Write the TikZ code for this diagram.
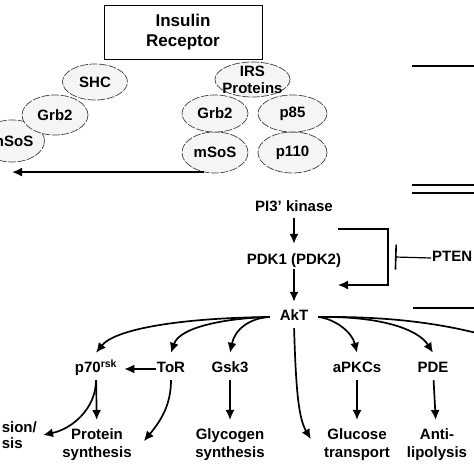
\documentclass[tikz,border=0pt]{standalone}
\usepackage{fontspec}
\setmainfont{Liberation Sans}
\usetikzlibrary{shapes.geometric,arrows.meta}

\begin{document}
\begin{tikzpicture}[x=1pt,y=1pt,
  lbl/.style={font=\bfseries\fontsize{15}{18}\selectfont, text height=11pt, text depth=3pt, inner sep=1pt},
  lbltwo/.style={font=\bfseries\fontsize{15}{18}\selectfont, align=center, anchor=north, inner sep=1pt},
  blob/.style={ellipse, draw=black!75, line width=0.7pt, dash pattern=on 8pt off 1.5pt, fill=black!4, inner sep=0pt, minimum width=66pt, minimum height=38pt},
  blobtxt/.style={font=\bfseries\fontsize{15}{17}\selectfont, align=center, inner sep=0pt},
  arr/.style={line width=1.7pt, -{Latex[length=10pt,width=9pt]}},
  rule/.style={line width=1.4pt}
]
\useasboundingbox (0,0) rectangle (474,474);

% receptor
\node[draw, line width=0.8pt, minimum width=158pt, minimum height=54pt, font=\bfseries\fontsize{17}{20}\selectfont, align=center] (ir) at (183,442) {Insulin\\Receptor};

% SHC branch
\node[blob, minimum width=65pt, minimum height=42pt] (sos1) at (12,333) {};
\node[blobtxt] (sos1-t) at (sos1) {mSoS};
\node[blob, minimum height=40pt] (grb1) at (55,359) {};
\node[blobtxt] (grb1-t) at (grb1) {Grb2};
\node[blob, minimum width=65pt, minimum height=36pt] (shc) at (95,392) {};
\node[blobtxt] (shc-t) at (shc) {SHC};

% IRS branch
\node[blob, minimum height=41pt] (sos2) at (215,321.5) {};
\node[blobtxt] (sos2-t) at (sos2) {mSoS};
\node[blob, minimum width=69pt, minimum height=41pt] (p110) at (292.5,321.5) {};
\node[blobtxt] (p110-t) at (p110) {p110};
\node[blob, minimum height=37pt] (grb2) at (215,360.5) {};
\node[blobtxt] (grb2-t) at (grb2) {Grb2};
\node[blob, minimum width=69pt, minimum height=37pt] (p85) at (292.5,360.5) {};
\node[blobtxt] (p85-t) at (p85) {p85};
\node[blob, minimum width=75pt, minimum height=35pt] (irs) at (252.5,394.5) {};
\node[blobtxt] (irs-t) at (irs) {IRS\\Proteins};

\coordinate (ras) at (12,301);
\draw[arr] (sos2.240) -- (sos2.240 -| ras);

% cut-off rules at right
\draw[rule] (412,408) -- (474,408);
\draw[rule] (412,289) -- (474,289);
\draw[rule] (412,281) -- (474,281);
\draw[rule] (413,166) -- (474,166);

% PI3 kinase cascade
\node[lbl] (pi3) at (294,266) {PI3' kinase};
\node[lbl] (pdk) at (294,213) {PDK1 (PDK2)};
\node[lbl, inner xsep=10pt] (akt) at (294,157) {AkT};
\node[lbl, anchor=west] (pten) at (431,216) {PTEN};
\draw[arr, shorten <=2pt, shorten >=9pt] (pi3) -- (pdk);
\draw[arr, shorten >=7pt] (pdk) -- (akt);

\coordinate (fb-top) at (338,245);
\coordinate (fb-end) at (338,189);
\coordinate (fb-hit) at (395,217);
\draw[arr, line width=1.5pt] (fb-top) -- ++(50,0) |- (fb-end);
\draw[line width=1.2pt, -{Bar[width=25pt,line width=1.6pt]}] (pten.west) -- (fb-hit);

% targets of AkT
\node[lbl] (p70) at (96,105) {p70\textsuperscript{rsk}};
\node[lbl] (tor) at (171,105) {ToR};
\node[lbl] (gsk) at (230,105) {Gsk3};
\node[lbl] (apkc) at (357,105) {aPKCs};
\node[lbl] (pde) at (433,105) {PDE};

\node[lbltwo] (prot) at (97,47) {Protein\\synthesis};
\node[lbltwo] (glyc) at (230,47) {Glycogen\\synthesis};
\node[lbltwo] (gluc) at (357,47) {Glucose\\transport};
\node[lbltwo] (lipo) at (437,47) {Anti-\\lipolysis};
\node[font=\bfseries\fontsize{15}{16}\selectfont, align=left, anchor=east, inner sep=0pt] (trl) at (37,39) {sion/\\sis};
\coordinate (offr) at (520,128);

\draw[arr] (akt.west) .. controls (180,156) and (115,145) .. ([yshift=8pt]p70.north);
\draw[arr] (akt.west) .. controls (230,156) and (180,148) .. ([yshift=8pt]tor.north);
\draw[arr] (akt.west) .. controls (250,156) and (235,145) .. ([yshift=8pt]gsk.north);
\draw[arr] (akt.east) .. controls (335,155) and (352,142) .. ([yshift=8pt]apkc.north);
\draw[arr] (akt.east) .. controls (380,158) and (418,145) .. ([yshift=8pt]pde.north);
\draw[arr] (akt.east) .. controls (400,158) and (460,148) .. (offr);
\draw[arr, shorten <=3pt] (akt.south) .. controls (296,80) and (299,55) .. ([xshift=-12pt,yshift=5pt]gluc.west);

\draw[arr, shorten >=6pt] (tor) -- (p70);
\draw[arr, shorten <=3pt] (p70.south) to[out=-90, in=12] ([xshift=6pt]trl.east);
\draw[arr, shorten <=3pt, shorten >=7pt] (p70) -- (prot);
\draw[arr, shorten <=3pt] (tor.south) to[out=-90, in=50] ([xshift=11pt,yshift=3pt]prot.east);
\draw[arr, shorten <=3pt, shorten >=7pt] (gsk) -- (glyc);
\draw[arr, shorten <=3pt, shorten >=7pt] (apkc) -- (gluc);
\draw[arr, shorten <=3pt, shorten >=7pt] (pde) -- (lipo);
\end{tikzpicture}
\end{document}
